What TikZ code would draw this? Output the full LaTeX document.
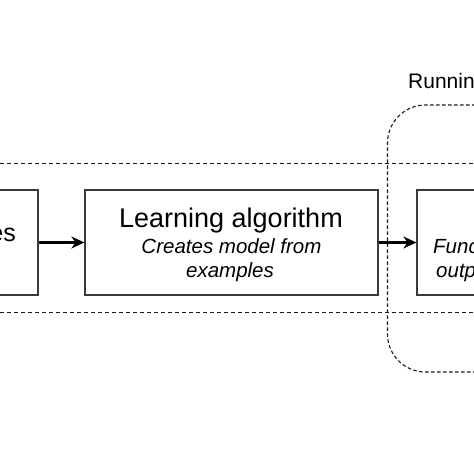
\documentclass[tikz,border=0pt]{standalone}
\usepackage{fontspec}
\setmainfont{Liberation Sans}
\usetikzlibrary{arrows.meta}
\definecolor{boxgray}{HTML}{3A3A3A}
\definecolor{guidegray}{HTML}{1A1A1A}
\begin{document}
\begin{tikzpicture}[x=1pt,y=-1pt,
  stagebox/.style={draw=boxgray, line width=1.3pt, fill=none, inner sep=0pt},
  flow/.style={-{Stealth[length=13pt,width=12pt]}, line width=2.4pt, black},
  guide/.style={draw=guidegray, line width=0.9pt, dash pattern=on 4pt off 3pt},
  regionline/.style={draw=guidegray, line width=1.1pt, dash pattern=on 3.5pt off 2.5pt},
  titletext/.style={font=\fontsize{27}{32}\selectfont, anchor=base, inner sep=0pt},
  subtext/.style={font=\fontsize{20.5}{24}\selectfont\itshape, anchor=base, inner sep=0pt},
  phasetext/.style={font=\fontsize{21}{25}\selectfont, anchor=base west, inner sep=0pt}]
\useasboundingbox (0,0) rectangle (474,474);
\clip (0,0) rectangle (474,474);
\fill[white] (0,0) rectangle (474,474);
% dashed guide lines
\coordinate (g1a) at (0,163.5);
\coordinate (g1b) at (474,163.5);
\coordinate (g2a) at (0,312.5);
\coordinate (g2b) at (474,312.5);
\draw[guide] (g1a) -- (g1b);
\draw[guide] (g2a) -- (g2b);
% running phase region
\node[regionline, rounded corners=38pt, minimum width=240pt, minimum height=267pt, inner sep=0pt] (run) at (507.5,238.5) {};
\node[phasetext] (runlabel) at (408,88) {Running};
% boxes
\node[stagebox, minimum width=188pt, minimum height=105pt] (ex) at (-56,242.5) {};
\node[stagebox, minimum width=293pt, minimum height=105pt] (learn) at (231.5,242.5) {};
\node[stagebox, minimum width=200pt, minimum height=105pt] (func) at (517,242.5) {};
% texts
\node[titletext, anchor=base east, font=\fontsize{25}{30}\selectfont] (extext) at (16,241) {Examples};
\node[titletext] (lt1) at (231,227) {Learning algorithm};
\node[subtext] (lt2) at (231.5,253) {Creates model from};
\node[subtext] (lt3) at (230,277) {examples};
\node[subtext, anchor=base west] (ft1) at (433,253) {Function};
\node[subtext, anchor=base west] (ft2) at (436,277) {output};
% arrows
\draw[flow] (ex.east) -- (learn.west);
\draw[flow] (learn.east) -- (func.west);
\end{tikzpicture}
\end{document}
